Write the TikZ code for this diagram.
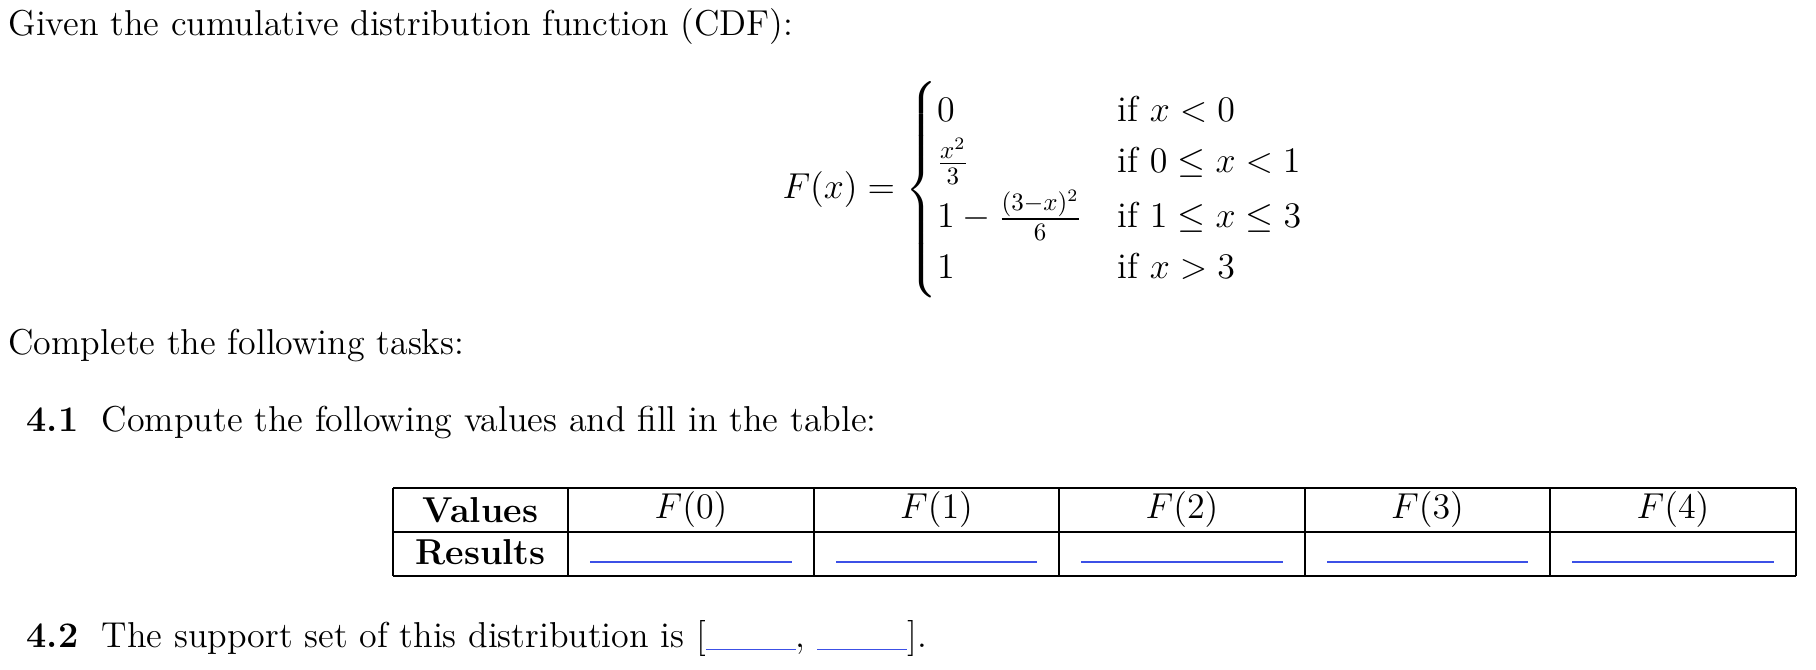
\documentclass[tikz,border=0pt]{standalone}
\usepackage{amsmath}
\definecolor{blank}{RGB}{60,80,230}
\newcommand{\blankline}[1]{{\color{blank}\rule[-1pt]{#1}{0.6pt}}}
\begin{document}
\begin{tikzpicture}[x=0.4pt,y=-0.4pt,
  txt/.style={anchor=base west,inner sep=0pt,font=\fontsize{14.4}{17}\selectfont},
  cell/.style={anchor=center,inner sep=0pt,font=\fontsize{14.4}{17}\selectfont},
  tline/.style={line width=0.7pt}]
\useasboundingbox (0,0) rectangle (1816,670);
\node[txt] (given) at (8,36) {Given the cumulative distribution function (CDF):};
\node[anchor=west,inner sep=0pt,font=\fontsize{14.4}{17}\selectfont] (cdf) at (782,190)
 {$F(x)=\begin{cases}0 & \text{if } x<0\\[0pt] \frac{x^2}{3} & \text{if } 0\le x<1\\[1pt] 1-\frac{(3-x)^2}{6} & \text{if } 1\le x\le 3\\[0pt] 1 & \text{if } x>3\end{cases}$};
\node[txt] (complete) at (8,355) {Complete the following tasks:};
\node[txt] (t41) at (26,432) {\textbf{4.1}\ \ Compute the following values and fill in the table:};
% table
\foreach \y in {488,532,576} \draw[tline] (393,\y) -- (1796,\y);
\foreach \x in {393,568,814,1059,1305,1550,1796} \draw[tline] (\x,488) -- (\x,576);
\node[cell] (v) at (480.5,510) {\textbf{Values}};
\node[cell] (r) at (480.5,552) {\textbf{Results}};
\node[cell] (f0) at (691,510) {$F(0)$};
\node[cell] (f1) at (936.5,510) {$F(1)$};
\node[cell] (f2) at (1182,510) {$F(2)$};
\node[cell] (f3) at (1427.5,510) {$F(3)$};
\node[cell] (f4) at (1673,510) {$F(4)$};
\foreach \a/\b in {568/814,814/1059,1059/1305,1305/1550,1550/1796}
  \draw[blank,line width=0.6pt] (\a+22,562) -- (\b-22,562);
\node[txt] (t42) at (26,648) {\textbf{4.2}\ \ The support set of this distribution is [\blankline{36pt}, \blankline{36pt}].};
\end{tikzpicture}
\end{document}
